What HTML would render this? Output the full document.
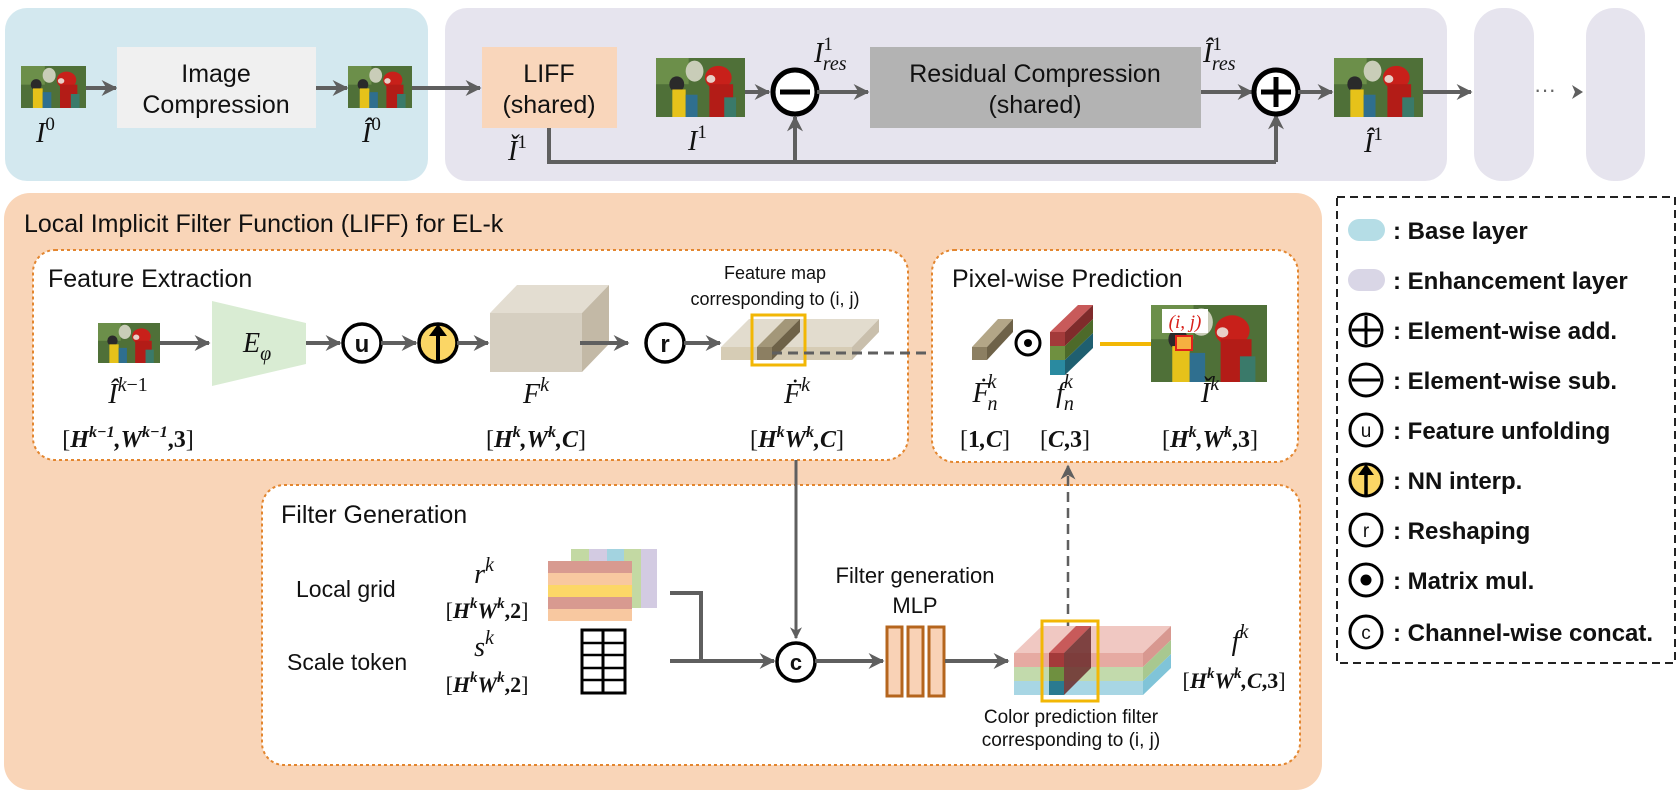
<!DOCTYPE html>
<html><head><meta charset="utf-8"><style>
html,body{margin:0;padding:0;background:#fff;}
svg{display:block;}
.s{font-family:"Liberation Sans",sans-serif;fill:#111;}
.m{font-family:"Liberation Serif",serif;font-style:italic;fill:#111;}
.b{font-family:"Liberation Serif",serif;font-style:italic;font-weight:bold;fill:#111;}
</style></head><body>
<svg width="1679" height="797" viewBox="0 0 1679 797" xmlns="http://www.w3.org/2000/svg">
<defs>
<marker id="a" viewBox="0 0 10 10" refX="9" refY="5" markerWidth="4" markerHeight="4" orient="auto" markerUnits="strokeWidth"><path d="M0,0 L10,5 L0,10 L3,5 Z" fill="#5f5f5f"/></marker>
<marker id="a2" viewBox="0 0 10 10" refX="9" refY="5" markerWidth="6" markerHeight="6" orient="auto" markerUnits="strokeWidth"><path d="M0,0 L10,5 L0,10 L3,5 Z" fill="#5f5f5f"/></marker>
<marker id="ay" viewBox="0 0 10 10" refX="9" refY="5" markerWidth="4" markerHeight="4" orient="auto" markerUnits="strokeWidth"><path d="M0,0 L10,5 L0,10 L3,5 Z" fill="#f2b705"/></marker>
<symbol id="p" viewBox="0 0 60 45" preserveAspectRatio="none">
<rect width="60" height="45" fill="#4f7038"/>
<rect x="0" y="0" width="22" height="20" fill="#6c8f4a"/>
<ellipse cx="26" cy="10" rx="6" ry="8" fill="#c9cdb8"/>
<ellipse cx="14" cy="20" rx="5" ry="6" fill="#2a2a2a"/>
<rect x="11" y="24" width="9" height="21" fill="#e6c21a"/>
<rect x="20" y="28" width="8" height="17" fill="#2f6f8f"/>
<ellipse cx="42" cy="15" rx="9" ry="9" fill="#c8201a"/>
<ellipse cx="37" cy="16" rx="3" ry="3" fill="#e8d0c8"/>
<rect x="36" y="20" width="16" height="25" fill="#b31c17"/>
<rect x="46" y="30" width="8" height="15" fill="#3a7a6a"/>
</symbol>
</defs>

<!-- top layers -->
<rect x="5" y="8" width="423" height="173" rx="22" fill="#d3e8ef"/>
<rect x="445" y="8" width="1002" height="173" rx="22" fill="#e6e4ee"/>
<rect x="1474" y="8" width="60" height="173" rx="28" fill="#e6e4ee"/>
<rect x="1586" y="8" width="59" height="173" rx="28" fill="#e6e4ee"/>

<use href="#p" x="21" y="66" width="65" height="42"/>
<line x1="86" y1="88" x2="116" y2="88" stroke="#5f5f5f" stroke-width="4" marker-end="url(#a)"/>
<rect x="117" y="47" width="199" height="81" fill="#f0f0f0"/>
<text class="s" x="216" y="82" font-size="25" text-anchor="middle">Image</text>
<text class="s" x="216" y="113" font-size="25" text-anchor="middle">Compression</text>
<line x1="316" y1="88" x2="347" y2="88" stroke="#5f5f5f" stroke-width="4" marker-end="url(#a)"/>
<use href="#p" x="348" y="66" width="64" height="42"/>
<text class="m" x="36" y="142" font-size="28">I<tspan font-size="19" dy="-12" font-style="normal">0</tspan></text>
<text class="m" x="362" y="142" font-size="28">Î<tspan font-size="19" dy="-12" font-style="normal">0</tspan></text>
<line x1="412" y1="88" x2="480" y2="88" stroke="#5f5f5f" stroke-width="4" marker-end="url(#a)"/>
<rect x="482" y="47" width="135" height="81" fill="#f9d6bb"/>
<text class="s" x="549" y="82" font-size="25" text-anchor="middle">LIFF</text>
<text class="s" x="549" y="113" font-size="25" text-anchor="middle">(shared)</text>
<text class="m" x="508" y="160" font-size="28">Ǐ<tspan font-size="19" dy="-12" font-style="normal">1</tspan></text>
<use href="#p" x="656" y="58" width="89" height="59"/>
<text class="m" x="688" y="150" font-size="28">I<tspan font-size="19" dy="-12" font-style="normal">1</tspan></text>
<line x1="745" y1="92" x2="769" y2="92" stroke="#5f5f5f" stroke-width="4" marker-end="url(#a)"/>
<polyline points="549,128 549,162 1276,162" fill="none" stroke="#5f5f5f" stroke-width="4"/>
<line x1="795" y1="162" x2="795" y2="117" stroke="#5f5f5f" stroke-width="4" marker-end="url(#a)"/>
<line x1="1276" y1="162" x2="1276" y2="115" stroke="#5f5f5f" stroke-width="4" marker-end="url(#a)"/>
<circle cx="795" cy="92" r="22" fill="#fff" stroke="#000" stroke-width="5"/>
<line x1="780" y1="92" x2="810" y2="92" stroke="#000" stroke-width="5"/>
<text class="m" x="814" y="62" font-size="28">I<tspan font-size="19" dy="-12" font-style="normal">1</tspan><tspan font-size="20" dx="-10" dy="20">res</tspan></text>
<line x1="817" y1="92" x2="868" y2="92" stroke="#5f5f5f" stroke-width="4" marker-end="url(#a)"/>
<rect x="870" y="47" width="331" height="81" fill="#b3b3b3"/>
<text class="s" x="1035" y="82" font-size="25" text-anchor="middle">Residual Compression</text>
<text class="s" x="1035" y="113" font-size="25" text-anchor="middle">(shared)</text>
<text class="m" x="1203" y="62" font-size="28">Î<tspan font-size="19" dy="-12" font-style="normal">1</tspan><tspan font-size="20" dx="-10" dy="20">res</tspan></text>
<line x1="1201" y1="92" x2="1252" y2="92" stroke="#5f5f5f" stroke-width="4" marker-end="url(#a)"/>
<circle cx="1276" cy="92" r="22" fill="#fff" stroke="#000" stroke-width="5"/>
<line x1="1261" y1="92" x2="1291" y2="92" stroke="#000" stroke-width="5"/>
<line x1="1276" y1="77" x2="1276" y2="107" stroke="#000" stroke-width="5"/>
<line x1="1298" y1="92" x2="1332" y2="92" stroke="#5f5f5f" stroke-width="4" marker-end="url(#a)"/>
<use href="#p" x="1334" y="58" width="89" height="59"/>
<text class="m" x="1364" y="152" font-size="28">Î<tspan font-size="19" dy="-12" font-style="normal">1</tspan></text>
<line x1="1423" y1="92" x2="1471" y2="92" stroke="#5f5f5f" stroke-width="4" marker-end="url(#a)"/>
<text x="1534" y="97" font-size="22" fill="#666" font-family="Liberation Sans,sans-serif">···</text>
<path d="M1572,85 L1583,92 L1572,99 L1575,92 Z" fill="#5f5f5f"/>

<!-- LIFF -->
<rect x="4" y="193" width="1318" height="597" rx="26" fill="#f9d5b8"/>
<text class="s" x="24" y="232" font-size="25">Local Implicit Filter Function (LIFF) for EL-k</text>

<rect x="33" y="250" width="875" height="210" rx="22" fill="#fff" stroke="#e3862f" stroke-width="2" stroke-dasharray="3,3"/>
<text class="s" x="48" y="287" font-size="25">Feature Extraction</text>
<use href="#p" x="98" y="323" width="62" height="40"/>
<line x1="160" y1="343" x2="209" y2="343" stroke="#5f5f5f" stroke-width="4" marker-end="url(#a)"/>
<polygon points="212,301 306,323 306,364 212,386" fill="#d9ecd3"/>
<text class="m" x="243" y="352" font-size="28">E<tspan font-size="20" dy="8">φ</tspan></text>
<line x1="306" y1="343" x2="340" y2="343" stroke="#5f5f5f" stroke-width="4" marker-end="url(#a)"/>
<circle cx="362" cy="343" r="19" fill="#fff" stroke="#000" stroke-width="3.5"/>
<text class="s" x="362" y="352" font-size="24" text-anchor="middle" font-weight="bold">u</text>
<line x1="381" y1="343" x2="416" y2="343" stroke="#5f5f5f" stroke-width="4" marker-end="url(#a)"/>
<circle cx="438" cy="343" r="19" fill="#fbd665" stroke="#000" stroke-width="3.5"/>
<line x1="438" y1="362" x2="438" y2="332" stroke="#000" stroke-width="4"/>
<path d="M429,336 L438,324 L447,336 Z" fill="#000"/>
<line x1="457" y1="343" x2="488" y2="343" stroke="#5f5f5f" stroke-width="4" marker-end="url(#a)"/>
<polygon points="490,313 517,285 609,285 582,313" fill="#e3ddd1"/>
<polygon points="582,313 609,285 609,344 582,372" fill="#c3b9a6"/>
<rect x="490" y="313" width="92" height="59" fill="#d6cfc1"/>
<line x1="580" y1="343" x2="628" y2="343" stroke="#5f5f5f" stroke-width="4" marker-end="url(#a)"/>
<circle cx="665" cy="343" r="19" fill="#fff" stroke="#000" stroke-width="3.5"/>
<text class="s" x="665" y="352" font-size="24" text-anchor="middle" font-weight="bold">r</text>
<line x1="684" y1="343" x2="720" y2="343" stroke="#5f5f5f" stroke-width="4" marker-end="url(#a)"/>
<polygon points="721,347 749,319 879,319 852,347" fill="#e2dcce"/>
<polygon points="852,347 879,319 879,332 852,360" fill="#c9bfac"/>
<rect x="721" y="347" width="131" height="13" fill="#d6ccb5"/>
<polygon points="757,347 785,319 800,319 772,347" fill="#a39779"/>
<polygon points="772,347 800,319 800,332 772,360" fill="#6e6248"/>
<rect x="757" y="347" width="15" height="13" fill="#8c7f62"/>
<rect x="752" y="315" width="53" height="50" fill="none" stroke="#f2b705" stroke-width="3"/>
<line x1="772" y1="353" x2="966" y2="353" stroke="#5f5f5f" stroke-width="3" stroke-dasharray="10,6" marker-end="url(#a2)"/>
<text class="s" x="775" y="279" font-size="18" text-anchor="middle">Feature map</text>
<text class="s" x="775" y="305" font-size="18" text-anchor="middle">corresponding to (i, j)</text>
<text class="m" x="128" y="403" font-size="28" text-anchor="middle">Î<tspan font-size="20" dy="-12">k</tspan><tspan font-size="20" font-style="normal">−1</tspan></text>
<text class="b" x="128" y="447" font-size="24" text-anchor="middle"><tspan font-weight="normal" font-style="normal">[</tspan>H<tspan font-size="16" dy="-10">k−1</tspan><tspan dy="10">,W</tspan><tspan font-size="16" dy="-10">k−1</tspan><tspan dy="10" font-style="normal">,3</tspan><tspan font-weight="normal" font-style="normal">]</tspan></text>
<text class="m" x="536" y="403" font-size="28" text-anchor="middle">F<tspan font-size="20" dy="-12">k</tspan></text>
<text class="b" x="536" y="447" font-size="24" text-anchor="middle"><tspan font-weight="normal" font-style="normal">[</tspan>H<tspan font-size="16" dy="-10">k</tspan><tspan dy="10">,W</tspan><tspan font-size="16" dy="-10">k</tspan><tspan dy="10">,C</tspan><tspan font-weight="normal" font-style="normal">]</tspan></text>
<text class="m" x="797" y="403" font-size="28" text-anchor="middle">Ḟ<tspan font-size="20" dy="-12">k</tspan></text>
<text class="b" x="797" y="447" font-size="24" text-anchor="middle"><tspan font-weight="normal" font-style="normal">[</tspan>H<tspan font-size="16" dy="-10">k</tspan><tspan dy="10">W</tspan><tspan font-size="16" dy="-10">k</tspan><tspan dy="10">,C</tspan><tspan font-weight="normal" font-style="normal">]</tspan></text>

<!-- Pixel-wise -->
<rect x="932" y="250" width="366" height="212" rx="22" fill="#fff" stroke="#e3862f" stroke-width="2" stroke-dasharray="3,3"/>
<text class="s" x="952" y="287" font-size="25">Pixel-wise Prediction</text>
<polygon points="972,347 998,319 1013,319 987,347" fill="#b3a687"/>
<polygon points="987,347 1013,319 1013,332 987,360" fill="#6e6248"/>
<rect x="972" y="347" width="15" height="13" fill="#8c7f62"/>
<circle cx="1028" cy="343" r="12" fill="#fff" stroke="#000" stroke-width="3"/>
<circle cx="1028" cy="343" r="4" fill="#000"/>
<polygon points="1050,332 1078,305 1093,305 1065,332" fill="#c85a5a"/>
<polygon points="1065,332 1093,305 1093,319 1065,346" fill="#7f2b2b"/>
<polygon points="1065,346 1093,319 1093,333 1065,360" fill="#4d6a2a"/>
<polygon points="1065,360 1093,333 1093,348 1065,375" fill="#1f5f70"/>
<rect x="1050" y="332" width="15" height="14" fill="#a33a3a"/>
<rect x="1050" y="346" width="15" height="14" fill="#6f9040"/>
<rect x="1050" y="360" width="15" height="15" fill="#2a8aa0"/>
<line x1="1100" y1="344" x2="1175" y2="344" stroke="#f2b705" stroke-width="4" marker-end="url(#ay)"/>
<use href="#p" x="1151" y="305" width="116" height="77"/>
<rect x="1162" y="309" width="46" height="24" fill="#fff"/>
<text class="m" x="1185" y="328" font-size="19" fill="#d8201a" style="fill:#d8201a" text-anchor="middle">(i, j)</text>
<rect x="1176" y="336" width="16" height="14" fill="#f6b040" stroke="#e0201a" stroke-width="2"/>
<text class="m" x="985" y="402" font-size="28" text-anchor="middle">Ḟ<tspan font-size="20" dx="-2" dy="8">n</tspan><tspan font-size="20" dx="-10" dy="-22">k</tspan></text>
<text class="b" x="985" y="447" font-size="24" text-anchor="middle"><tspan font-weight="normal" font-style="normal">[</tspan><tspan font-style="normal">1</tspan>,C<tspan font-weight="normal" font-style="normal">]</tspan></text>
<text class="m" x="1065" y="402" font-size="28" text-anchor="middle">f<tspan font-size="20" dy="8">n</tspan><tspan font-size="20" dx="-10" dy="-22">k</tspan></text>
<text class="b" x="1065" y="447" font-size="24" text-anchor="middle"><tspan font-weight="normal" font-style="normal">[</tspan>C<tspan font-style="normal">,3</tspan><tspan font-weight="normal" font-style="normal">]</tspan></text>
<text class="m" x="1210" y="402" font-size="28" text-anchor="middle">Ǐ<tspan font-size="20" dy="-12">k</tspan></text>
<text class="b" x="1210" y="447" font-size="24" text-anchor="middle"><tspan font-weight="normal" font-style="normal">[</tspan>H<tspan font-size="16" dy="-10">k</tspan><tspan dy="10">,W</tspan><tspan font-size="16" dy="-10">k</tspan><tspan dy="10" font-style="normal">,3</tspan><tspan font-weight="normal" font-style="normal">]</tspan></text>

<!-- Filter Generation -->
<rect x="262" y="485" width="1038" height="280" rx="22" fill="#fff" stroke="#e3862f" stroke-width="2" stroke-dasharray="3,3"/>
<line x1="796" y1="460" x2="796" y2="638" stroke="#5f5f5f" stroke-width="3" marker-end="url(#a)"/>
<line x1="1068" y1="630" x2="1068" y2="466" stroke="#5f5f5f" stroke-width="2.5" stroke-dasharray="10,6" marker-end="url(#a2)"/>
<text class="s" x="281" y="523" font-size="25">Filter Generation</text>
<text class="s" x="296" y="597" font-size="23">Local grid</text>
<text class="s" x="287" y="670" font-size="23">Scale token</text>
<text class="m" x="484" y="583" font-size="28" text-anchor="middle">r<tspan font-size="20" dy="-12">k</tspan></text>
<text class="b" x="487" y="618" font-size="22" text-anchor="middle"><tspan font-weight="normal" font-style="normal">[</tspan>H<tspan font-size="15" dy="-10">k</tspan><tspan dy="10">W</tspan><tspan font-size="15" dy="-10">k</tspan><tspan dy="10" font-style="normal">,2</tspan><tspan font-weight="normal" font-style="normal">]</tspan></text>
<text class="m" x="484" y="656" font-size="28" text-anchor="middle">s<tspan font-size="20" dy="-12">k</tspan></text>
<text class="b" x="487" y="692" font-size="22" text-anchor="middle"><tspan font-weight="normal" font-style="normal">[</tspan>H<tspan font-size="15" dy="-10">k</tspan><tspan dy="10">W</tspan><tspan font-size="15" dy="-10">k</tspan><tspan dy="10" font-style="normal">,2</tspan><tspan font-weight="normal" font-style="normal">]</tspan></text>
<rect x="571" y="549" width="18" height="59" fill="#c3d9a3"/>
<rect x="589" y="549" width="18" height="59" fill="#d3cbe2"/>
<rect x="607" y="549" width="17" height="59" fill="#a3d3e0"/>
<rect x="624" y="549" width="17" height="59" fill="#c3d9a3"/>
<rect x="641" y="549" width="16" height="59" fill="#d3cbe2"/>
<rect x="548" y="561" width="84" height="12" fill="#d89a90"/>
<rect x="548" y="573" width="84" height="12" fill="#f8c8a0"/>
<rect x="548" y="585" width="84" height="12" fill="#fcd767"/>
<rect x="548" y="597" width="84" height="12" fill="#d89a90"/>
<rect x="548" y="609" width="84" height="12" fill="#f8c8a0"/>
<rect x="582" y="630" width="43" height="63" fill="#fff" stroke="#000" stroke-width="3"/>
<line x1="603" y1="630" x2="603" y2="693" stroke="#000" stroke-width="3"/>
<line x1="582" y1="643" x2="625" y2="643" stroke="#000" stroke-width="2.5"/>
<line x1="582" y1="655" x2="625" y2="655" stroke="#000" stroke-width="2.5"/>
<line x1="582" y1="668" x2="625" y2="668" stroke="#000" stroke-width="2.5"/>
<line x1="582" y1="680" x2="625" y2="680" stroke="#000" stroke-width="2.5"/>
<polyline points="670,593 701,593 701,661" fill="none" stroke="#5f5f5f" stroke-width="4"/>
<line x1="670" y1="661" x2="774" y2="661" stroke="#5f5f5f" stroke-width="4" marker-end="url(#a)"/>
<circle cx="796" cy="662" r="19" fill="#fff" stroke="#000" stroke-width="3.5"/>
<text class="s" x="796" y="670" font-size="22" text-anchor="middle" font-weight="bold">c</text>
<line x1="815" y1="661" x2="883" y2="661" stroke="#5f5f5f" stroke-width="4" marker-end="url(#a)"/>
<text class="s" x="915" y="583" font-size="22" text-anchor="middle">Filter generation</text>
<text class="s" x="915" y="613" font-size="22" text-anchor="middle">MLP</text>
<rect x="887" y="627" width="15" height="69" fill="#f9d2b6" stroke="#b5651d" stroke-width="3"/>
<rect x="908" y="627" width="15" height="69" fill="#f9d2b6" stroke="#b5651d" stroke-width="3"/>
<rect x="929" y="627" width="15" height="69" fill="#f9d2b6" stroke="#b5651d" stroke-width="3"/>
<line x1="945" y1="661" x2="1008" y2="661" stroke="#5f5f5f" stroke-width="4" marker-end="url(#a)"/>
<polygon points="1014,653 1042,626 1171,626 1143,653" fill="#f0c8c2"/>
<polygon points="1143,653 1171,626 1171,640 1143,667" fill="#d89890"/>
<polygon points="1143,667 1171,640 1171,654 1143,681" fill="#a8c890"/>
<polygon points="1143,681 1171,654 1171,668 1143,695" fill="#80c4d8"/>
<rect x="1014" y="653" width="129" height="14" fill="#e6aaa2"/>
<rect x="1014" y="667" width="129" height="14" fill="#c2daac"/>
<rect x="1014" y="681" width="129" height="14" fill="#a8d6e4"/>
<polygon points="1049,653 1076,626 1091,626 1064,653" fill="#c85a5a"/>
<polygon points="1064,653 1091,626 1091,668 1064,695" fill="#6a2a2a" opacity="0.85"/>
<rect x="1049" y="653" width="15" height="14" fill="#a33a3a"/>
<rect x="1049" y="667" width="15" height="14" fill="#6f9040"/>
<rect x="1049" y="681" width="15" height="14" fill="#2a7a90"/>
<rect x="1042" y="621" width="56" height="80" fill="none" stroke="#f2b705" stroke-width="3"/>
<text class="m" x="1240" y="650" font-size="28" text-anchor="middle">f<tspan font-size="20" dy="-12">k</tspan></text>
<text class="b" x="1234" y="688" font-size="22" text-anchor="middle"><tspan font-weight="normal" font-style="normal">[</tspan>H<tspan font-size="15" dy="-10">k</tspan><tspan dy="10">W</tspan><tspan font-size="15" dy="-10">k</tspan><tspan dy="10">,C</tspan><tspan font-style="normal">,3</tspan><tspan font-weight="normal" font-style="normal">]</tspan></text>
<text class="s" x="1071" y="723" font-size="19" text-anchor="middle">Color prediction filter</text>
<text class="s" x="1071" y="746" font-size="19" text-anchor="middle">corresponding to (i, j)</text>

<!-- Legend -->
<rect x="1337" y="197" width="338" height="466" fill="#fff" stroke="#222" stroke-width="2" stroke-dasharray="8,5"/>
<g class="s" font-size="24" font-weight="bold">
<rect x="1348" y="219" width="37" height="22" rx="11" fill="#b5dde6"/>
<text x="1393" y="239">: Base layer</text>
<rect x="1348" y="269" width="37" height="22" rx="11" fill="#d9d6e6"/>
<text x="1393" y="289">: Enhancement layer</text>
<circle cx="1366" cy="330" r="16" fill="none" stroke="#000" stroke-width="3"/>
<line x1="1352" y1="330" x2="1380" y2="330" stroke="#000" stroke-width="3"/>
<line x1="1366" y1="316" x2="1366" y2="344" stroke="#000" stroke-width="3"/>
<text x="1393" y="339">: Element-wise add.</text>
<circle cx="1366" cy="380" r="16" fill="none" stroke="#000" stroke-width="3"/>
<line x1="1352" y1="380" x2="1380" y2="380" stroke="#000" stroke-width="3"/>
<text x="1393" y="389">: Element-wise sub.</text>
<circle cx="1366" cy="430" r="16" fill="none" stroke="#000" stroke-width="3"/>
<text x="1366" y="437" font-size="19" font-weight="normal" text-anchor="middle">u</text>
<text x="1393" y="439">: Feature unfolding</text>
<circle cx="1366" cy="480" r="16" fill="#fbd665" stroke="#000" stroke-width="3"/>
<line x1="1366" y1="496" x2="1366" y2="472" stroke="#000" stroke-width="3.5"/>
<path d="M1358,475 L1366,464 L1374,475 Z" fill="#000"/>
<text x="1393" y="489">: NN interp.</text>
<circle cx="1366" cy="530" r="16" fill="none" stroke="#000" stroke-width="3"/>
<text x="1366" y="537" font-size="19" font-weight="normal" text-anchor="middle">r</text>
<text x="1393" y="539">: Reshaping</text>
<circle cx="1366" cy="580" r="16" fill="none" stroke="#000" stroke-width="3"/>
<circle cx="1366" cy="580" r="5.5" fill="#000"/>
<text x="1393" y="589">: Matrix mul.</text>
<circle cx="1366" cy="632" r="16" fill="none" stroke="#000" stroke-width="3"/>
<text x="1366" y="639" font-size="19" font-weight="normal" text-anchor="middle">c</text>
<text x="1393" y="641">: Channel-wise concat.</text>
</g>
</svg>
</body></html>
